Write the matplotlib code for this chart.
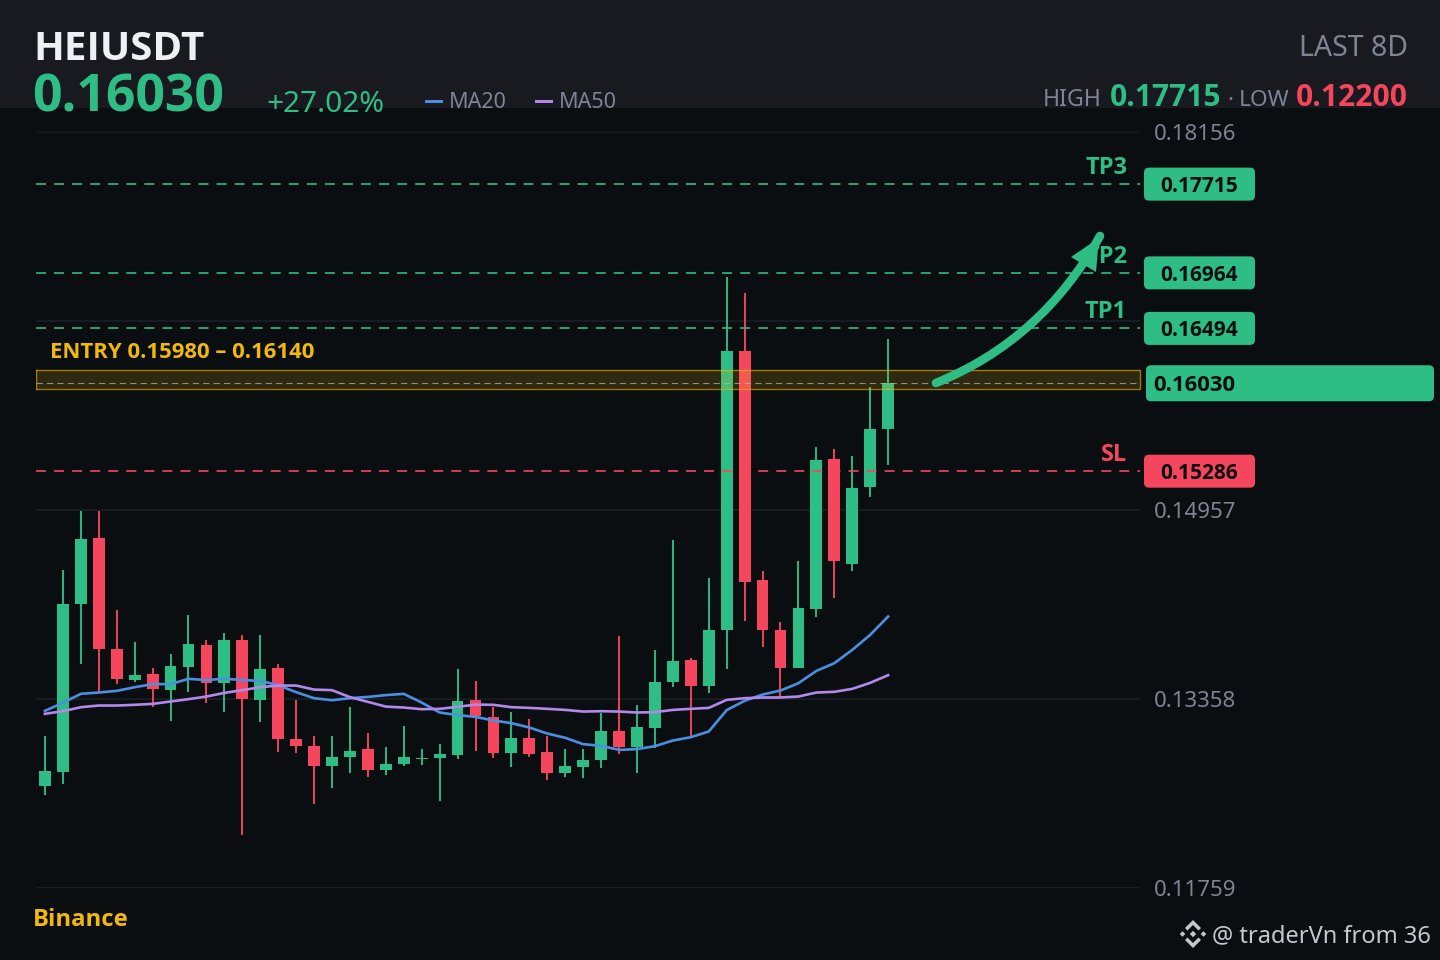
import matplotlib
matplotlib.use('Agg')
import matplotlib.pyplot as plt
from matplotlib.patches import Rectangle, FancyBboxPatch, PathPatch, Polygon
from matplotlib.path import Path
from matplotlib.transforms import Affine2D

plt.rcParams['font.family'] = ['Noto Sans', 'DejaVu Sans']
plt.rcParams['lines.scale_dashes'] = False
BOLD = ['Open Sans', 'Noto Sans', 'DejaVu Sans']

# candles
opens = [0.12623, 0.12744, 0.14163, 0.14721, 0.13780, 0.13523, 0.13571, 0.13433, 0.13633, 0.13813, 0.13492, 0.13861,
         0.13351, 0.13621, 0.13021, 0.12961, 0.12792, 0.12871, 0.12933, 0.12761, 0.12812, 0.12849, 0.12863, 0.12883,
         0.13351, 0.13210, 0.12900, 0.13032, 0.12911, 0.12733, 0.12784, 0.12843, 0.13091, 0.12953, 0.13114, 0.13503,
         0.13692, 0.13472, 0.13943, 0.16304, 0.14364, 0.13943, 0.13624, 0.14121, 0.15390, 0.14504, 0.15153, 0.15641]
closes = [0.12753, 0.14160, 0.14710, 0.13782, 0.13531, 0.13560, 0.13444, 0.13638, 0.13822, 0.13492, 0.13861, 0.13362,
          0.13610, 0.13023, 0.12961, 0.12792, 0.12871, 0.12922, 0.12761, 0.12812, 0.12871, 0.12863, 0.12894, 0.13340,
          0.13216, 0.12902, 0.13032, 0.12891, 0.12733, 0.12792, 0.12843, 0.13091, 0.12953, 0.13123, 0.13503, 0.13681,
          0.13472, 0.13943, 0.16304, 0.14352, 0.13943, 0.13624, 0.14132, 0.15381, 0.14524, 0.15142, 0.15641, 0.16030]
highs = [0.13049, 0.14451, 0.14950, 0.14950, 0.14112, 0.13839, 0.13619, 0.13740, 0.14070, 0.13858, 0.13920, 0.13901,
         0.13901, 0.13653, 0.13351, 0.13044, 0.13049, 0.13291, 0.13072, 0.12953, 0.13131, 0.12933, 0.12979, 0.13610,
         0.13512, 0.13291, 0.13249, 0.13193, 0.13046, 0.12933, 0.12933, 0.13244, 0.13892, 0.13311, 0.13774, 0.14702,
         0.13704, 0.14381, 0.16930, 0.16792, 0.14440, 0.14011, 0.14530, 0.15491, 0.15472, 0.15413, 0.15999, 0.16403]
lows = [0.12550, 0.12643, 0.13653, 0.13410, 0.13483, 0.13503, 0.13294, 0.13173, 0.13421, 0.13323, 0.13252, 0.12206,
        0.13162, 0.12913, 0.12900, 0.12471, 0.12604, 0.12733, 0.12702, 0.12719, 0.12792, 0.12803, 0.12494, 0.12854,
        0.12922, 0.12863, 0.12787, 0.12871, 0.12674, 0.12702, 0.12694, 0.12773, 0.12894, 0.12733, 0.12941, 0.13463,
        0.13041, 0.13413, 0.13613, 0.14022, 0.13802, 0.13379, 0.13624, 0.14053, 0.14214, 0.14442, 0.15071, 0.15342]

ma20 = [0.13258, 0.13326, 0.13402, 0.13413, 0.13427, 0.13458, 0.13484, 0.13484, 0.13529, 0.13518, 0.13531, 0.13518,
        0.13512, 0.13475, 0.13416, 0.13365, 0.13348, 0.13365, 0.13376, 0.13391, 0.13402, 0.13328, 0.13244, 0.13222,
        0.13207, 0.13176, 0.13154, 0.13117, 0.13066, 0.13030, 0.12976, 0.12962, 0.12928, 0.12934, 0.12959, 0.13007,
        0.13035, 0.13083, 0.13264, 0.13343, 0.13396, 0.13430, 0.13492, 0.13596, 0.13661, 0.13774, 0.13901, 0.14056]
ma50 = [0.13233, 0.13255, 0.13289, 0.13303, 0.13303, 0.13309, 0.13317, 0.13337, 0.13357, 0.13379, 0.13410, 0.13433,
        0.13458, 0.13472, 0.13472, 0.13438, 0.13433, 0.13374, 0.13334, 0.13294, 0.13286, 0.13272, 0.13275, 0.13292,
        0.13311, 0.13309, 0.13289, 0.13283, 0.13275, 0.13266, 0.13252, 0.13255, 0.13252, 0.13244, 0.13247, 0.13266,
        0.13275, 0.13283, 0.13351, 0.13365, 0.13371, 0.13371, 0.13379, 0.13413, 0.13419, 0.13444, 0.13495, 0.13560]

tick_values = [0.11759, 0.13358, 0.14957, 0.16557, 0.18156]
tick_labels = ['0.11759', '0.13358', '0.14957', '', '0.18156']

level_names = ['TP3', 'TP2', 'TP1', 'SL']
level_prices = [0.17715, 0.16964, 0.16494, 0.15286]
entry_low = 0.15980
entry_high = 0.16140
last_price = 0.16030

GREEN = '#2ebd85'
RED = '#f6465d'
YELLOW = '#f0b90b'
BLUE = '#4a90e2'
PURPLE = '#b388eb'
GREY = '#7d8494'
DARK = '#0b0e11'

fig = plt.figure(figsize=(14.4, 9.6), dpi=100, facecolor=DARK)
# top-left pixel coordinates, for the furniture around the chart
px = Affine2D().scale(1 / 1440, -1 / 960).translate(0, 1) + fig.transFigure

fig.add_artist(Rectangle((0, 0), 1440, 108, transform=px, facecolor='#181a20', edgecolor='none', zorder=-1))

ax = fig.add_axes([36 / 1440, 72 / 960, 1104 / 1440, 756 / 960])
ax.patch.set_alpha(0)
ax.set_xlim(-0.5, 61.04)
ax.set_ylim(0.11759, 0.18156)
for s in ax.spines.values():
    s.set_visible(False)
ax.set_xticks([])
ax.set_yticks(tick_values)
ax.set_yticklabels(tick_labels, fontsize=16, color=GREY)
ax.yaxis.tick_right()
ax.tick_params(axis='y', length=0, pad=10)
ax.grid(True, axis='y', color='#1a1d22', linewidth=1.3)
ax.set_axisbelow(True)


def y_px(price):
    return 960 - ax.transData.transform((0, price))[1]


# candles: wicks first, bodies on top
x_pos = list(range(len(opens)))
colors = [GREEN if c >= o else RED for o, c in zip(opens, closes)]
ax.vlines(x_pos, lows, highs, colors=colors, linewidth=1.35, zorder=2)
ax.bar(x_pos, [abs(c - o) for o, c in zip(opens, closes)], bottom=[min(o, c) for o, c in zip(opens, closes)],
       width=0.66, color=colors, linewidth=0, zorder=2.1)

ax.plot(x_pos, ma20, color=BLUE, linewidth=1.9, zorder=3)
ax.plot(x_pos, ma50, color=PURPLE, linewidth=1.9, zorder=3)

# entry zone
ax.axhspan(entry_low, entry_high, facecolor=YELLOW, alpha=0.16, edgecolor='none', zorder=4)
ax.axhline(entry_low, color=YELLOW, alpha=0.6, linewidth=1, zorder=4)
ax.axhline(entry_high, color=YELLOW, alpha=0.6, linewidth=1, zorder=4)
ax.plot([-0.5, -0.5], [entry_low, entry_high], color=YELLOW, alpha=0.6, linewidth=1, zorder=4)
ax.plot([61.04, 61.04], [entry_low, entry_high], color=YELLOW, alpha=0.6, linewidth=1, zorder=4, clip_on=False)
ax.axhline(last_price, color='#b8b8b8', alpha=0.7, linewidth=0.8, linestyle=(0, (4.5, 3)), zorder=4)
ax.text(50.5, 353, 'ENTRY 0.15980 – 0.16140', transform=px, color=YELLOW, fontsize=15.9, fontweight='bold',
        family=BOLD, va='center', ha='left')

# target levels with their labels and price boxes
for name, price in zip(level_names, level_prices):
    col = RED if name == 'SL' else GREEN
    ax.axhline(price, color=col, alpha=0.95, linewidth=1.25, linestyle=(0, (7.2, 5.8)), zorder=4)
    y = y_px(price)
    ax.text(1127, y - 10, name, transform=px, color=col, fontsize=17, fontweight='bold', family=BOLD, ha='right',
            va='baseline', zorder=5)
    ax.add_patch(FancyBboxPatch((1148, y - 12.5), 103, 25, boxstyle='round,pad=4,rounding_size=5', transform=px,
                                facecolor=col, edgecolor='none', clip_on=False, zorder=6))
    ax.text(1199.5, y, f'{price:.5f}', transform=px, color=DARK, fontsize=15, fontweight='bold', family=BOLD,
            ha='center', va='center_baseline', zorder=7)

y_last = y_px(last_price)
ax.add_patch(FancyBboxPatch((1150, y_last - 14), 280, 28, boxstyle='round,pad=4,rounding_size=5', transform=px,
                            facecolor=GREEN, edgecolor='none', clip_on=False, zorder=6))
ax.text(1153.5, y_last, f'{last_price:.5f}', transform=px, color=DARK, fontsize=15.9, fontweight='bold', family=BOLD,
        ha='left', va='center_baseline', zorder=7)

# the big arrow sits over everything, it hides the T of TP2
arrow = Path([(936, 383), (1042, 340), (1100, 236)], [Path.MOVETO, Path.CURVE3, Path.CURVE3])
fig.add_artist(PathPatch(arrow, transform=px, facecolor='none', edgecolor=GREEN, linewidth=6.2, capstyle='round',
                         zorder=10))
fig.add_artist(Polygon([(1071, 257), (1096, 272), (1099, 238)], closed=True, transform=px, facecolor=GREEN,
                       edgecolor='none', zorder=10))

# header
fig.text(33, 60, 'HEIUSDT', transform=px, color='#eef0f4', fontsize=29, fontweight='bold', family=BOLD, va='baseline')
fig.text(32, 112, '0.16030', transform=px, color=GREEN, fontsize=37.2, fontweight='bold', family=BOLD, va='baseline')
fig.text(266, 112, '+27.02%', transform=px, color=GREEN, fontsize=21.5, va='baseline')

fig.add_artist(Rectangle((425, 100), 18, 3, transform=px, facecolor=BLUE, edgecolor='none'))
fig.text(449, 108, 'MA20', transform=px, color=GREY, fontsize=15.5, va='baseline')
fig.add_artist(Rectangle((535, 100), 18, 3, transform=px, facecolor=PURPLE, edgecolor='none'))
fig.text(559, 108, 'MA50', transform=px, color=GREY, fontsize=15.5, va='baseline')

fig.text(1408, 56.5, 'LAST 8D', transform=px, color=GREY, fontsize=20.5, ha='right', va='baseline')
fig.text(1043, 106, 'HIGH', transform=px, color=GREY, fontsize=16.6, va='baseline')
fig.text(1110, 106, '0.17715', transform=px, color=GREEN, fontsize=21.6, fontweight='bold', family=BOLD, va='baseline')
fig.text(1230, 106, '·', transform=px, color=GREY, fontsize=16, ha='center', va='baseline')
fig.text(1239, 106, 'LOW', transform=px, color=GREY, fontsize=16.3, va='baseline')
fig.text(1408, 106, '0.12200', transform=px, color=RED, fontsize=21.6, fontweight='bold', family=BOLD, ha='right',
         va='baseline')

# footer
fig.text(33, 920, 'Binance', transform=px, color=YELLOW, fontsize=17.2, fontweight='bold', family=BOLD, va='center')
fig.text(1212, 936, '@ traderVn from 36', transform=px, color='#c4c7cc', fontsize=17, va='center')

# little binance logo next to the watermark
cx, cy = 1193, 934
mark = '#c4c7cc'
for dx, dy, r in [(0, 0, 3.2), (-10.5, 0, 2.8), (10.5, 0, 2.8)]:
    fig.add_artist(Polygon([(cx + dx - r, cy + dy), (cx + dx, cy - r + dy), (cx + dx + r, cy + dy), (cx + dx, cy + r + dy)],
                           transform=px, facecolor=mark, edgecolor='none'))
for sgn in (-1, 1):
    fig.add_artist(Polygon([(cx - 8, cy + sgn * 6), (cx, cy + sgn * 14), (cx + 8, cy + sgn * 6), (cx + 5.5, cy + sgn * 3.5),
                            (cx, cy + sgn * 9), (cx - 5.5, cy + sgn * 3.5)],
                           transform=px, facecolor=mark, edgecolor='none'))

fig.savefig('out.png', dpi=100, facecolor=fig.get_facecolor())
